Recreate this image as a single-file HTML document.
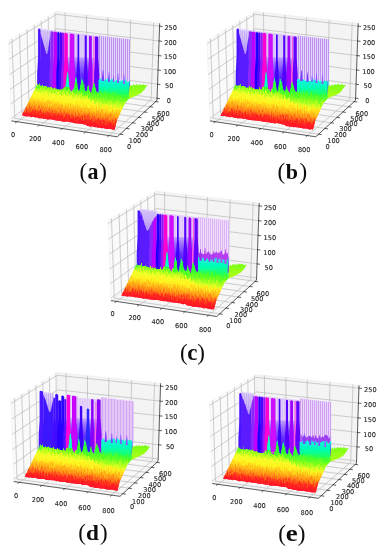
<!DOCTYPE html>
<html><head><meta charset="utf-8"><title>Figure</title>
<style>
html,body{margin:0;padding:0;background:#fff}
svg{display:block}
.tk text{font-family:"DejaVu Sans","Liberation Sans",sans-serif;font-size:6.6px;fill:#262626;stroke:#262626;stroke-width:.12px;text-anchor:middle}
.cap text{font-family:"Liberation Serif","DejaVu Serif",serif;fill:#111;text-anchor:middle}
.cap .pr{font-size:23px}
.cap .lt{font-size:22px;font-weight:bold}
</style></head><body>
<svg width="382" height="550" viewBox="0 0 382 550">
<defs>
<filter id="bl" x="-5%" y="-5%" width="110%" height="110%"><feGaussianBlur stdDeviation="0.55"/></filter>
<filter id="bl3" x="-10%" y="-10%" width="120%" height="120%"><feGaussianBlur stdDeviation="0.35"/></filter>
<filter id="bl2" x="-5%" y="-5%" width="110%" height="110%"><feGaussianBlur stdDeviation="0.3 0.5"/></filter>
<filter id="nz" x="-5%" y="-10%" width="110%" height="120%"><feTurbulence type="fractalNoise" baseFrequency="0.85 0.22" numOctaves="2" seed="3" result="t"/><feColorMatrix in="t" type="matrix" values="0 0 0 0 0.5  0 1.6 0 0 -0.3  0 0 0 0 0  0 0 0 0 1" result="t2"/><feDisplacementMap in="SourceGraphic" in2="t2" scale="6.5" xChannelSelector="R" yChannelSelector="G"/></filter>
<linearGradient id="lw" gradientUnits="userSpaceOnUse" x1="0" y1="52" x2="0" y2="84"><stop offset="0" stop-color="#6a28ff" stop-opacity="0"/><stop offset=".35" stop-color="#6424ff" stop-opacity=".5"/><stop offset=".7" stop-color="#5a20ff" stop-opacity=".9"/><stop offset="1" stop-color="#4a1eff" stop-opacity="1"/></linearGradient>
<linearGradient id="pg" x1="0" y1="0" x2="0" y2="1"><stop offset="0" stop-color="#78ff14"/><stop offset="1" stop-color="#b4ff14"/></linearGradient>
<linearGradient id="gx" gradientUnits="userSpaceOnUse" x1="110" y1="93" x2="108" y2="109"><stop offset="0" stop-color="#32ff32"/><stop offset=".35" stop-color="#6eff1e"/><stop offset=".7" stop-color="#beff1e" stop-opacity=".85"/><stop offset="1" stop-color="#f0ff28" stop-opacity="0"/></linearGradient>
<linearGradient id="vn" x1="0" y1="0" x2="0" y2="1"><stop offset="0" stop-color="#e6dafc"/><stop offset=".5" stop-color="#d2bff9"/><stop offset="1" stop-color="#ae8cf4"/></linearGradient>
<linearGradient id="fg" gradientUnits="userSpaceOnUse" x1="21.9" y1="115.6" x2="26.4" y2="83">
<stop offset="0" stop-color="#ff1428"/><stop offset=".13" stop-color="#ff281e"/><stop offset=".2" stop-color="#ff501e"/><stop offset=".3" stop-color="#ff8c14"/><stop offset=".42" stop-color="#ffb414"/><stop offset=".5" stop-color="#ffd21e"/><stop offset=".58" stop-color="#fff01e"/><stop offset=".74" stop-color="#f5ff28"/><stop offset=".82" stop-color="#c8ff1e"/><stop offset=".9" stop-color="#a0ff1e"/><stop offset=".96" stop-color="#64ff1e"/><stop offset="1" stop-color="#32ff32"/>
</linearGradient>
<linearGradient id="cy" x1="0" y1="0" x2="0" y2="1"><stop offset="0" stop-color="#14f0e6"/><stop offset=".45" stop-color="#00ffb4"/><stop offset=".8" stop-color="#1eff64"/><stop offset="1" stop-color="#46ff32"/></linearGradient>
</defs>
<rect width="382" height="550" fill="#fff"/>
<g transform="translate(0,0)" filter="url(#bl)"><polygon points="11.42,120.89 57.55,86.76 56.51,11.55 8.47,40.96" fill="#fafafa" stroke="#ececec" stroke-width=".5"/><polygon points="57.55,86.76 157,100.45 159.7,23.33 56.51,11.55" fill="#f4f4f4" stroke="#e8e8e8" stroke-width=".5"/><polygon points="11.42,120.89 117.28,136.81 157,100.45 57.55,86.76" fill="#f7f7f7" stroke="#e8e8e8" stroke-width=".5"/><g fill="none" stroke="#b4b4b4" stroke-width=".65"><polyline points="17.11,121.74 65.76,87.9 65.04,12.52" /><polyline points="40.28,125.23 86.47,90.74 86.52,14.98" /><polyline points="62.75,128.61 107.07,93.58 107.9,17.42" /><polyline points="85.82,132.08 129.03,96.6 130.68,20.02" /><polyline points="108.99,135.57 151.19,99.65 153.67,22.64" /><polyline points="120.18,134.16 14.77,118.4 11.97,38.82" /><polyline points="126.45,128.42 22.05,113.02 19.56,34.17" /><polyline points="132.58,122.81 29.16,107.77 26.97,29.63" /><polyline points="138.56,117.33 36.11,102.63 34.21,25.2" /><polyline points="144.41,111.98 42.9,97.6 41.29,20.87" /><polyline points="150.12,106.74 49.55,92.68 48.2,16.64" /><polyline points="155.71,101.62 56.06,87.87 54.96,12.5" /><polyline points="11.33,118.57 57.52,84.57 157.08,98.21" /><polyline points="10.8,104.06 57.33,70.9 157.57,84.2" /><polyline points="10.25,89.35 57.14,57.04 158.06,69.99" /><polyline points="9.7,74.43 56.95,42.99 158.57,55.59" /><polyline points="9.14,59.28 56.75,28.75 159.08,40.98" /><polyline points="8.57,43.91 56.55,14.32 159.6,26.17" /></g><polygon points="37.6,28.6 98.5,35.64 98.5,35.34 130.1,39 130,97 38,85" fill="#e4d4fb"/><clipPath id="bpa"><polygon points="37.6,28.6 98.5,35.64 98.5,35.34 130.1,39 130,97 38,85"/></clipPath><g clip-path="url(#bpa)"><g stroke="#cdb0f6" stroke-width="0.6"><line x1="40.6" y1="28.95" x2="40.6" y2="70"/><line x1="42.3" y1="29.14" x2="42.3" y2="70"/><line x1="44" y1="29.34" x2="44" y2="70"/><line x1="45.7" y1="29.54" x2="45.7" y2="70"/><line x1="47.4" y1="29.73" x2="47.4" y2="70"/><line x1="49.1" y1="29.93" x2="49.1" y2="70"/><line x1="50.8" y1="30.13" x2="50.8" y2="70"/><line x1="52.5" y1="30.32" x2="52.5" y2="70"/><line x1="54.2" y1="30.52" x2="54.2" y2="70"/><line x1="55.9" y1="30.72" x2="55.9" y2="70"/><line x1="57.6" y1="30.91" x2="57.6" y2="70"/><line x1="59.3" y1="31.11" x2="59.3" y2="70"/><line x1="61" y1="31.31" x2="61" y2="70"/><line x1="62.7" y1="31.5" x2="62.7" y2="70"/><line x1="64.4" y1="31.7" x2="64.4" y2="70"/><line x1="66.1" y1="31.9" x2="66.1" y2="70"/><line x1="67.8" y1="32.09" x2="67.8" y2="70"/><line x1="69.5" y1="32.29" x2="69.5" y2="70"/><line x1="71.2" y1="32.49" x2="71.2" y2="70"/><line x1="72.9" y1="32.68" x2="72.9" y2="70"/><line x1="74.6" y1="32.88" x2="74.6" y2="70"/><line x1="76.3" y1="33.08" x2="76.3" y2="70"/><line x1="78" y1="33.27" x2="78" y2="70"/><line x1="79.7" y1="33.47" x2="79.7" y2="70"/><line x1="81.4" y1="33.67" x2="81.4" y2="70"/><line x1="83.1" y1="33.86" x2="83.1" y2="70"/><line x1="84.8" y1="34.06" x2="84.8" y2="70"/><line x1="86.5" y1="34.26" x2="86.5" y2="70"/><line x1="88.2" y1="34.45" x2="88.2" y2="70"/><line x1="89.9" y1="34.65" x2="89.9" y2="70"/><line x1="91.6" y1="34.85" x2="91.6" y2="70"/><line x1="93.3" y1="35.04" x2="93.3" y2="70"/><line x1="95" y1="35.24" x2="95" y2="70"/><line x1="96.7" y1="35.44" x2="96.7" y2="70"/><line x1="98.4" y1="35.63" x2="98.4" y2="70"/></g></g></g>
<g transform="translate(0,0)" filter="url(#bl2)"><g stroke="#bd92f1" stroke-width="1"><line x1="99.5" y1="35.79" x2="99.5" y2="81.79"/><line x1="101.5" y1="36.04" x2="101.5" y2="80.85"/><line x1="103.5" y1="36.35" x2="103.5" y2="79.78"/><line x1="105.5" y1="36.46" x2="105.5" y2="80.8"/><line x1="107.5" y1="36.84" x2="107.5" y2="80.84"/><line x1="109.5" y1="37.06" x2="109.5" y2="82.34"/><line x1="111.5" y1="37.33" x2="111.5" y2="79.58"/><line x1="113.5" y1="37.49" x2="113.5" y2="80.64"/><line x1="115.5" y1="37.65" x2="115.5" y2="79.59"/><line x1="117.5" y1="37.89" x2="117.5" y2="80.99"/><line x1="119.5" y1="38.12" x2="119.5" y2="80.16"/><line x1="121.5" y1="38.4" x2="121.5" y2="79.56"/><line x1="123.5" y1="38.7" x2="123.5" y2="81.43"/><line x1="125.5" y1="38.81" x2="125.5" y2="82.08"/><line x1="127.5" y1="39.02" x2="127.5" y2="81.66"/><line x1="129.5" y1="39.37" x2="129.5" y2="80.77"/></g></g>
<g transform="translate(0,0)" filter="url(#bl)"><polygon points="37.6,56 98.5,58 98.5,94.89 38,87" fill="url(#lw)"/><polygon points="37.2,91.01 37.2,74 38.1,60 38.1,29.36 38.9,28.56 39.9,28.86 40.7,29.66 40.7,60 41.6,74 41.6,91.35" fill="#4a14ff"/><polygon points="39.6,91.33 39.6,74 40.5,60 40.5,30.84 41.3,30.04 49.6,31.18 50.4,31.98 50.4,60 51.3,74 51.3,92.62" fill="#5a1eff"/><polygon points="49.5,92.62 49.5,74 50.4,60 50.4,31.98 51.2,31.18 52.7,31.54 53.5,32.34 53.5,60 54.4,74 54.4,93.02" fill="#8c28ff"/><polygon points="52.6,93.02 52.6,74 53.5,60 53.5,32.34 54.3,31.54 56.4,31.97 57.2,32.77 57.2,60 58.1,74 58.1,93.5" fill="#be00ff"/><polygon points="56.3,93.5 56.3,74 57.2,60 57.2,32.77 58,31.97 58.8,32.24 59.6,33.04 59.6,60 60.5,74 60.5,93.82" fill="#1a00ff"/><polygon points="58.7,93.82 58.7,74 59.6,60 59.6,33.04 60.4,32.24 61.2,32.52 62,33.32 62,60 62.9,74 62.9,94.13" fill="#5000ff"/><polygon points="61.1,94.13 61.1,74 62,60 62,33.29 62.77,32.52 63.53,32.79 64.3,33.56 64.3,60 65.2,74 65.2,94.43" fill="#9614ff"/><polygon points="63.4,94.43 63.4,74 64.3,60 64.3,33.59 65.1,32.79 67,33.19 67.8,33.99 67.8,60 68.7,74 68.7,94.89" fill="#ff00d2"/><polygon points="68.9,95.15 68.9,74 69.8,60 69.8,34.22 70.6,33.42 73.5,33.95 74.3,34.75 74.3,60 75.2,74 75.2,95.73" fill="#cc10ff"/><polygon points="76.6,96.15 76.6,74 77.5,60 77.5,34.88 78.07,34.32 78.63,34.51 79.2,35.08 79.2,60 80.1,74 80.1,96.37" fill="#3c00ff"/><polygon points="83.8,97.09 83.8,74 84.7,60 84.7,35.85 85.4,35.15 86.1,35.39 86.8,36.09 86.8,60 87.7,74 87.7,97.37" fill="#5200ff"/><polygon points="88.1,97.65 88.1,74 89,60 89,36.45 89.8,35.65 91,35.97 91.8,36.77 91.8,60 92.7,74 92.7,98.02" fill="#a000ff"/><polygon points="92.5,98.23 92.5,74 93.4,60 93.4,36.55 93.8,36.15 94.2,36.29 94.6,36.69 94.6,60 95.5,74 95.5,98.38" fill="#ff5ae0"/><polygon points="94.1,98.43 94.1,74 95,60 95,37.14 95.8,36.34 97.5,36.72 98.3,37.52 98.3,60 99.2,74 99.2,98.87" fill="#6400ff"/><polygon points="40.6,28.4 50.4,29.6 50.4,34 47.3,54 46.3,54 40.6,33" fill="url(#vn)"/><g stroke="#b99af4" stroke-width=".7"><line x1="41.8" y1="30.29" x2="41.8" y2="36.59"/><line x1="43.8" y1="30.52" x2="43.8" y2="43.04"/><line x1="45.8" y1="30.75" x2="45.8" y2="49.35"/><line x1="47.8" y1="30.98" x2="47.8" y2="50.69"/><line x1="49.8" y1="31.21" x2="49.8" y2="37.64"/></g><polygon points="98.5,80.06 99.63,79.62 100.76,78.51 101.89,79.49 103.01,80.51 104.14,80.46 105.27,79.45 106.4,79.78 107.53,78.08 108.66,78.82 109.79,80.67 110.91,79.51 112.04,78.81 113.17,80.08 114.3,80.65 115.43,80.63 116.56,79.74 117.69,80.02 118.81,80.31 119.94,81.25 121.07,80.5 122.2,80.16 123.33,80.54 124.46,79.14 125.59,79.25 126.71,81.44 127.84,82.4 128.97,81.23 130.1,80.66 130.1,98 98.5,94.5" fill="url(#cy)"/><polygon points="101.75,81 102.62,71 103,70 103.38,71 104.25,81" fill="#7a40ff"/><polygon points="108,82 108.7,73 109,72 109.3,73 110,82" fill="#7a40ff"/><polygon points="112.7,82 113.26,76 113.5,75 113.74,76 114.3,82" fill="#8a50ff"/><polygon points="117,83 117.7,74 118,73 118.3,74 119,83" fill="#8a50ff"/><polygon points="123,84 123.7,75 124,74 124.3,75 125,84" fill="#9a50ff"/><polygon points="128.7,93 129.19,81 129.4,80 129.61,81 130.1,93" fill="#5a50ff"/><polygon points="129.4,86.4 131.29,85.02 132.22,86.29 133.34,84.21 135.27,85.56 136.58,83.82 138.03,85.67 139.3,84.03 141.19,85.31 143.14,84.25 144.51,85.35 147.26,84.64 144.72,89.36 141.02,93.3 134.99,96.19 128.41,99.03" fill="url(#pg)"/><clipPath id="fca"><polygon points="36.5,85.5 37,69 131,81 129,98.2 124.6,103.4 119.5,114.7 117,120 114.5,130.04 112.98,129.69 111.46,129.17 109.95,128.87 108.43,128.98 106.91,128.89 105.39,128.74 103.87,128.12 102.36,128.29 100.84,127.94 99.32,127.59 97.8,127.73 96.28,127 94.77,127.13 93.25,126.47 91.73,126.32 90.21,126.63 88.69,125.93 87.18,126.1 85.66,124.48 84.14,124.44 82.62,123.9 81.1,123.67 79.59,123.43 78.07,123.62 76.55,123.23 75.03,123.26 73.51,123.01 72,122.27 70.48,122.35 68.96,121.83 67.44,121.57 65.92,121.39 64.4,121.73 62.89,121.47 61.37,121.29 59.85,120.73 58.33,120.72 56.81,120.62 55.3,120.13 53.78,120.06 52.26,119.6 50.74,119.29 49.22,119.21 47.71,119.44 46.19,119 44.67,119.05 43.15,118.51 41.63,118.17 40.12,118.32 38.6,118.14 37.08,117.36 35.56,117.61 34.04,116.99 32.53,116.8 31.01,117.13 29.49,116.33 27.97,116.26 26.45,116.57 24.94,115.96 23.42,115.54 21.9,115.37"/></clipPath><polygon points="38.05,85.11 39.98,85.53 43.89,86.28 48.03,87.56 52.12,88.3 56.13,88.76 60.14,89.77 62.83,89.12 65.31,88.76 66.5,79.61 67.55,73.84 68.23,79.66 69.31,87.67 70.91,91.21 72.48,91.32 74.29,87.52 75.25,81.92 75.88,77.11 76.96,82.01 77.68,88.11 79.13,92.02 80.11,86.65 81.29,81.66 82.08,79.18 82.92,81.72 83.99,86.3 85.51,92.22 87.06,89.89 88.03,84.82 89.05,89.56 90.92,93.97 92.75,87.81 93.54,84.31 94.18,82.74 94.67,84.25 95.4,88.38 96.82,92.82 98.68,93.57 99.5,93.63 101.03,94.66 102.55,94.99 104.08,94.86 105.6,94.83 107.12,94.87 108.65,95.03 110.17,95.06 111.7,95.82 113.22,95.73 114.75,95.64 116.28,95.74 117.8,96.61 119.33,96.36 120.85,96.81 122.38,96.8 123.9,97.65 125.42,97.88 126.95,97.02 128.47,97.44 130,97.79 129,98.2 124.6,103.4 119.5,114.7 117,120 114.5,130.04 112.98,129.69 111.46,129.17 109.95,128.87 108.43,128.98 106.91,128.89 105.39,128.74 103.87,128.12 102.36,128.29 100.84,127.94 99.32,127.59 97.8,127.73 96.28,127 94.77,127.13 93.25,126.47 91.73,126.32 90.21,126.63 88.69,125.93 87.18,126.1 85.66,124.48 84.14,124.44 82.62,123.9 81.1,123.67 79.59,123.43 78.07,123.62 76.55,123.23 75.03,123.26 73.51,123.01 72,122.27 70.48,122.35 68.96,121.83 67.44,121.57 65.92,121.39 64.4,121.73 62.89,121.47 61.37,121.29 59.85,120.73 58.33,120.72 56.81,120.62 55.3,120.13 53.78,120.06 52.26,119.6 50.74,119.29 49.22,119.21 47.71,119.44 46.19,119 44.67,119.05 43.15,118.51 41.63,118.17 40.12,118.32 38.6,118.14 37.08,117.36 35.56,117.61 34.04,116.99 32.53,116.8 31.01,117.13 29.49,116.33 27.97,116.26 26.45,116.57 24.94,115.96 23.42,115.54 21.9,115.37" fill="url(#fg)"/><g clip-path="url(#fca)"><polygon points="38.05,85.11 39.98,85.53 43.89,86.28 48.03,87.56 52.12,88.3 56.13,88.76 60.14,89.77 62.83,89.12 65.31,88.76 66.5,79.61 67.55,73.84 68.23,79.66 69.31,87.67 70.91,91.21 72.48,91.32 74.29,87.52 75.25,81.92 75.88,77.11 76.96,82.01 77.68,88.11 79.13,92.02 80.11,86.65 81.29,81.66 82.08,79.18 82.92,81.72 83.99,86.3 85.51,92.22 87.06,89.89 88.03,84.82 89.05,89.56 90.92,93.97 92.75,87.81 93.54,84.31 94.18,82.74 94.67,84.25 95.4,88.38 96.82,92.82 98.68,93.57 99.5,93.63 101.03,94.66 102.55,94.99 104.08,94.86 105.6,94.83 107.12,94.87 108.65,95.03 110.17,95.06 111.7,95.82 113.22,95.73 114.75,95.64 116.28,95.74 117.8,96.61 119.33,96.36 120.85,96.81 122.38,96.8 123.9,97.65 125.42,97.88 126.95,97.02 128.47,97.44 130,97.79 133,96 120.5,132.4 15.9,119.6 35,84" fill="url(#fg)" filter="url(#nz)"/></g><g clip-path="url(#fca)"><polygon points="78,91 131,96 131,112 104,108.5" fill="url(#gx)" filter="url(#nz)"/></g><polygon points="65.9,87 67.09,73 67.6,72 68.11,73 69.3,87" fill="#00ffd2"/><polygon points="75.1,82 75.73,78 76,77 76.27,78 76.9,82" fill="#14ffa0"/><polygon points="81.2,83 81.76,80 82,79 82.24,80 82.8,83" fill="#28ff8c"/><g fill="none" stroke="#1c1c1c" stroke-width=".7"><polyline points="11.42,120.89 117.28,136.81 157,100.45 159.7,23.33" /><polyline points="17.15,121.48 15.08,123.03" /><polyline points="39.65,124.87 37.64,126.44" /><polyline points="62.47,128.3 60.52,129.89" /><polyline points="85.62,131.78 83.73,133.4" /><polyline points="109.1,135.31 107.28,136.95" /><polyline points="119.71,134.09 123.26,134.62" /><polyline points="125.98,128.35 129.5,128.87" /><polyline points="132.11,122.74 135.6,123.25" /><polyline points="138.1,117.27 141.55,117.76" /><polyline points="143.95,111.91 147.37,112.4" /><polyline points="149.67,106.68 153.06,107.15" /><polyline points="155.27,101.56 158.62,102.03" /><polyline points="156.63,98.15 159.98,98.6" /><polyline points="157.12,84.14 160.49,84.58" /><polyline points="157.61,69.93 161.01,70.37" /><polyline points="158.11,55.53 161.53,55.95" /><polyline points="158.62,40.93 162.07,41.34" /><polyline points="159.13,26.12 162.6,26.51" /></g><g class="tk"><text x="13.2" y="136.61">0</text><text x="35.2" y="140.71">200</text><text x="58.3" y="144.61">400</text><text x="81.8" y="148.61">600</text><text x="105.7" y="152.21">800</text><text x="163.3" y="115.51">600</text><text x="158" y="120.81">500</text><text x="152.9" y="125.51">400</text><text x="147" y="131.21">300</text><text x="142" y="137.41">200</text><text x="135" y="143.11">100</text><text x="129.1" y="148.71">0</text><text x="168.9" y="102.81">0</text><text x="169.3" y="88.21">50</text><text x="170" y="74.21">100</text><text x="170.3" y="59.31">150</text><text x="170.5" y="44.81">200</text><text x="170.7" y="29.71">250</text></g></g>
<g transform="translate(198.5,0)" filter="url(#bl)"><polygon points="11.42,120.89 57.55,86.76 56.51,11.55 8.47,40.96" fill="#fafafa" stroke="#ececec" stroke-width=".5"/><polygon points="57.55,86.76 157,100.45 159.7,23.33 56.51,11.55" fill="#f4f4f4" stroke="#e8e8e8" stroke-width=".5"/><polygon points="11.42,120.89 117.28,136.81 157,100.45 57.55,86.76" fill="#f7f7f7" stroke="#e8e8e8" stroke-width=".5"/><g fill="none" stroke="#b4b4b4" stroke-width=".65"><polyline points="17.11,121.74 65.76,87.9 65.04,12.52" /><polyline points="40.28,125.23 86.47,90.74 86.52,14.98" /><polyline points="62.75,128.61 107.07,93.58 107.9,17.42" /><polyline points="85.82,132.08 129.03,96.6 130.68,20.02" /><polyline points="108.99,135.57 151.19,99.65 153.67,22.64" /><polyline points="120.18,134.16 14.77,118.4 11.97,38.82" /><polyline points="126.45,128.42 22.05,113.02 19.56,34.17" /><polyline points="132.58,122.81 29.16,107.77 26.97,29.63" /><polyline points="138.56,117.33 36.11,102.63 34.21,25.2" /><polyline points="144.41,111.98 42.9,97.6 41.29,20.87" /><polyline points="150.12,106.74 49.55,92.68 48.2,16.64" /><polyline points="155.71,101.62 56.06,87.87 54.96,12.5" /><polyline points="11.33,118.57 57.52,84.57 157.08,98.21" /><polyline points="10.8,104.06 57.33,70.9 157.57,84.2" /><polyline points="10.25,89.35 57.14,57.04 158.06,69.99" /><polyline points="9.7,74.43 56.95,42.99 158.57,55.59" /><polyline points="9.14,59.28 56.75,28.75 159.08,40.98" /><polyline points="8.57,43.91 56.55,14.32 159.6,26.17" /></g><polygon points="37.6,28.6 98.5,35.64 98.5,35.34 130.1,39 130,97 38,85" fill="#e4d4fb"/><clipPath id="bpb"><polygon points="37.6,28.6 98.5,35.64 98.5,35.34 130.1,39 130,97 38,85"/></clipPath><g clip-path="url(#bpb)"><g stroke="#cdb0f6" stroke-width="0.6"><line x1="40.6" y1="28.95" x2="40.6" y2="70"/><line x1="42.3" y1="29.14" x2="42.3" y2="70"/><line x1="44" y1="29.34" x2="44" y2="70"/><line x1="45.7" y1="29.54" x2="45.7" y2="70"/><line x1="47.4" y1="29.73" x2="47.4" y2="70"/><line x1="49.1" y1="29.93" x2="49.1" y2="70"/><line x1="50.8" y1="30.13" x2="50.8" y2="70"/><line x1="52.5" y1="30.32" x2="52.5" y2="70"/><line x1="54.2" y1="30.52" x2="54.2" y2="70"/><line x1="55.9" y1="30.72" x2="55.9" y2="70"/><line x1="57.6" y1="30.91" x2="57.6" y2="70"/><line x1="59.3" y1="31.11" x2="59.3" y2="70"/><line x1="61" y1="31.31" x2="61" y2="70"/><line x1="62.7" y1="31.5" x2="62.7" y2="70"/><line x1="64.4" y1="31.7" x2="64.4" y2="70"/><line x1="66.1" y1="31.9" x2="66.1" y2="70"/><line x1="67.8" y1="32.09" x2="67.8" y2="70"/><line x1="69.5" y1="32.29" x2="69.5" y2="70"/><line x1="71.2" y1="32.49" x2="71.2" y2="70"/><line x1="72.9" y1="32.68" x2="72.9" y2="70"/><line x1="74.6" y1="32.88" x2="74.6" y2="70"/><line x1="76.3" y1="33.08" x2="76.3" y2="70"/><line x1="78" y1="33.27" x2="78" y2="70"/><line x1="79.7" y1="33.47" x2="79.7" y2="70"/><line x1="81.4" y1="33.67" x2="81.4" y2="70"/><line x1="83.1" y1="33.86" x2="83.1" y2="70"/><line x1="84.8" y1="34.06" x2="84.8" y2="70"/><line x1="86.5" y1="34.26" x2="86.5" y2="70"/><line x1="88.2" y1="34.45" x2="88.2" y2="70"/><line x1="89.9" y1="34.65" x2="89.9" y2="70"/><line x1="91.6" y1="34.85" x2="91.6" y2="70"/><line x1="93.3" y1="35.04" x2="93.3" y2="70"/><line x1="95" y1="35.24" x2="95" y2="70"/><line x1="96.7" y1="35.44" x2="96.7" y2="70"/><line x1="98.4" y1="35.63" x2="98.4" y2="70"/></g></g></g>
<g transform="translate(198.5,0)" filter="url(#bl2)"><g stroke="#bd92f1" stroke-width="1"><line x1="100" y1="35.95" x2="100" y2="79.67"/><line x1="102" y1="36.01" x2="102" y2="81.71"/><line x1="104" y1="36.36" x2="104" y2="81.32"/><line x1="106" y1="36.58" x2="106" y2="79.98"/><line x1="108" y1="36.77" x2="108" y2="81.67"/><line x1="110" y1="37.12" x2="110" y2="81.13"/><line x1="112" y1="37.24" x2="112" y2="79.61"/><line x1="114" y1="37.39" x2="114" y2="80.46"/><line x1="116" y1="37.69" x2="116" y2="81.08"/><line x1="118" y1="37.95" x2="118" y2="79.57"/><line x1="120" y1="38.14" x2="120" y2="81.03"/><line x1="122" y1="38.5" x2="122" y2="80.05"/><line x1="124" y1="38.72" x2="124" y2="81.7"/><line x1="126" y1="38.95" x2="126" y2="81.87"/><line x1="128" y1="39.07" x2="128" y2="82.39"/><line x1="130" y1="39.26" x2="130" y2="81.65"/></g></g>
<g transform="translate(198.5,0)" filter="url(#bl)"><polygon points="37.6,56 98.5,58 98.5,94.89 38,87" fill="url(#lw)"/><polygon points="37.2,91.01 37.2,74 38.1,60 38.1,29.36 38.9,28.56 39.9,28.86 40.7,29.66 40.7,60 41.6,74 41.6,91.35" fill="#4a14ff"/><polygon points="39.6,91.33 39.6,74 40.5,60 40.5,30.84 41.3,30.04 49.6,31.18 50.4,31.98 50.4,60 51.3,74 51.3,92.62" fill="#5a1eff"/><polygon points="49.5,92.62 49.5,74 50.4,60 50.4,31.98 51.2,31.18 52.7,31.54 53.5,32.34 53.5,60 54.4,74 54.4,93.02" fill="#8c28ff"/><polygon points="52.6,93.02 52.6,74 53.5,60 53.5,32.34 54.3,31.54 56.4,31.97 57.2,32.77 57.2,60 58.1,74 58.1,93.5" fill="#be00ff"/><polygon points="56.3,93.5 56.3,74 57.2,60 57.2,32.77 58,31.97 58.8,32.24 59.6,33.04 59.6,60 60.5,74 60.5,93.82" fill="#1a00ff"/><polygon points="58.7,93.82 58.7,74 59.6,60 59.6,33.04 60.4,32.24 61.2,32.52 62,33.32 62,60 62.9,74 62.9,94.13" fill="#5000ff"/><polygon points="61.1,94.13 61.1,74 62,60 62,33.29 62.77,32.52 63.53,32.79 64.3,33.56 64.3,60 65.2,74 65.2,94.43" fill="#9614ff"/><polygon points="63.4,94.43 63.4,74 64.3,60 64.3,33.59 65.1,32.79 67,33.19 67.8,33.99 67.8,60 68.7,74 68.7,94.89" fill="#ff00d2"/><polygon points="68.9,95.15 68.9,74 69.8,60 69.8,34.22 70.6,33.42 73.5,33.95 74.3,34.75 74.3,60 75.2,74 75.2,95.73" fill="#cc10ff"/><polygon points="76.6,96.15 76.6,74 77.5,60 77.5,34.88 78.07,34.32 78.63,34.51 79.2,35.08 79.2,60 80.1,74 80.1,96.37" fill="#3c00ff"/><polygon points="83.8,97.09 83.8,74 84.7,60 84.7,35.85 85.4,35.15 86.1,35.39 86.8,36.09 86.8,60 87.7,74 87.7,97.37" fill="#5200ff"/><polygon points="88.1,97.65 88.1,74 89,60 89,36.45 89.8,35.65 91,35.97 91.8,36.77 91.8,60 92.7,74 92.7,98.02" fill="#a000ff"/><polygon points="92.5,98.23 92.5,74 93.4,60 93.4,36.55 93.8,36.15 94.2,36.29 94.6,36.69 94.6,60 95.5,74 95.5,98.38" fill="#ff5ae0"/><polygon points="94.1,98.43 94.1,74 95,60 95,37.14 95.8,36.34 97.5,36.72 98.3,37.52 98.3,60 99.2,74 99.2,98.87" fill="#6400ff"/><polygon points="40.6,28.4 50.4,29.6 50.4,34 47.3,54 46.3,54 40.6,33" fill="url(#vn)"/><g stroke="#b99af4" stroke-width=".7"><line x1="41.8" y1="30.29" x2="41.8" y2="36.59"/><line x1="43.8" y1="30.52" x2="43.8" y2="43.04"/><line x1="45.8" y1="30.75" x2="45.8" y2="49.35"/><line x1="47.8" y1="30.98" x2="47.8" y2="50.69"/><line x1="49.8" y1="31.21" x2="49.8" y2="37.64"/></g><polygon points="98.5,78.88 99.63,79.17 100.76,79.11 101.89,80.57 103.01,79.29 104.14,80.42 105.27,78.96 106.4,80.73 107.53,80.85 108.66,79.52 109.79,79.93 110.91,81.13 112.04,80.57 113.17,79.89 114.3,79.11 115.43,79.51 116.56,80.78 117.69,79.15 118.81,81.59 119.94,79.62 121.07,81.74 122.2,79.89 123.33,82.03 124.46,81.3 125.59,80.73 126.71,80.84 127.84,81.34 128.97,81.21 130.1,80.4 130.1,98 98.5,94.5" fill="url(#cy)"/><polygon points="101.75,81 102.62,71 103,70 103.38,71 104.25,81" fill="#7a40ff"/><polygon points="108,82 108.7,73 109,72 109.3,73 110,82" fill="#7a40ff"/><polygon points="112.7,82 113.26,76 113.5,75 113.74,76 114.3,82" fill="#8a50ff"/><polygon points="117,83 117.7,74 118,73 118.3,74 119,83" fill="#8a50ff"/><polygon points="123,84 123.7,75 124,74 124.3,75 125,84" fill="#9a50ff"/><polygon points="128.7,93 129.19,81 129.4,80 129.61,81 130.1,93" fill="#5a50ff"/><polygon points="129.42,86.41 131.26,84.9 131.95,86.26 133.64,84.53 134.81,85.7 136.34,84.12 137.86,85.08 139.83,83.49 141.01,85.28 142.85,83.77 144.73,85.24 147.43,84.63 144.42,89.04 141.3,92.97 135.27,95.92 128.64,98.62" fill="url(#pg)"/><clipPath id="fcb"><polygon points="36.5,85.5 37,69 131,81 129,98.2 124.6,103.4 119.5,114.7 117,120 114.5,129.42 112.98,129.35 111.46,129.52 109.95,129.19 108.43,128.52 106.91,128.62 105.39,128.38 103.87,128.22 102.36,127.82 100.84,127.87 99.32,127.3 97.8,127.24 96.28,127.09 94.77,127.28 93.25,126.47 91.73,126.73 90.21,126.13 88.69,126.18 87.18,125.85 85.66,124.39 84.14,124.38 82.62,123.92 81.1,123.52 79.59,123.31 78.07,123.07 76.55,123.4 75.03,123.04 73.51,123.06 72,122.66 70.48,121.98 68.96,122.22 67.44,122.09 65.92,121.84 64.4,121.47 62.89,121.17 61.37,121.03 59.85,121.06 58.33,120.47 56.81,120.44 55.3,120.2 53.78,120.32 52.26,120.01 50.74,119.89 49.22,119.61 47.71,119.02 46.19,118.77 44.67,118.74 43.15,118.37 41.63,118.28 40.12,118.24 38.6,118.2 37.08,117.76 35.56,117.71 34.04,117 32.53,116.97 31.01,117.21 29.49,116.4 27.97,116.38 26.45,115.93 24.94,115.73 23.42,116.09 21.9,115.94"/></clipPath><polygon points="37.9,85.31 39.86,85.68 44.08,86.49 47.82,87.69 51.86,87.54 55.94,89.12 60.1,89.21 62.93,89.13 65.48,88.77 66.7,80.4 67.6,74.36 68.48,79.97 69.19,88.16 70.93,90.6 72.48,91.87 74.15,88.08 75.26,82.01 75.86,77.96 76.7,82.11 77.77,87.52 79.02,92.14 80.12,86.53 81.06,81.6 82.05,79.01 83.09,82.43 84,85.73 85.48,92.25 87.04,90.12 88.12,85.21 88.9,89.92 91.01,93 92.41,87.91 93.24,84.72 93.9,82.1 94.57,84.23 95.49,88.02 96.99,92.31 98.56,93.21 99.5,94.51 101.03,94.78 102.55,94.69 104.08,94.54 105.6,94.83 107.12,95.11 108.65,94.68 110.17,95.32 111.7,95.64 113.22,95.43 114.75,95.52 116.28,96.57 117.8,96.25 119.33,96.63 120.85,97.31 122.38,97.14 123.9,96.95 125.42,97.98 126.95,97.45 128.47,97.22 130,98.22 129,98.2 124.6,103.4 119.5,114.7 117,120 114.5,129.42 112.98,129.35 111.46,129.52 109.95,129.19 108.43,128.52 106.91,128.62 105.39,128.38 103.87,128.22 102.36,127.82 100.84,127.87 99.32,127.3 97.8,127.24 96.28,127.09 94.77,127.28 93.25,126.47 91.73,126.73 90.21,126.13 88.69,126.18 87.18,125.85 85.66,124.39 84.14,124.38 82.62,123.92 81.1,123.52 79.59,123.31 78.07,123.07 76.55,123.4 75.03,123.04 73.51,123.06 72,122.66 70.48,121.98 68.96,122.22 67.44,122.09 65.92,121.84 64.4,121.47 62.89,121.17 61.37,121.03 59.85,121.06 58.33,120.47 56.81,120.44 55.3,120.2 53.78,120.32 52.26,120.01 50.74,119.89 49.22,119.61 47.71,119.02 46.19,118.77 44.67,118.74 43.15,118.37 41.63,118.28 40.12,118.24 38.6,118.2 37.08,117.76 35.56,117.71 34.04,117 32.53,116.97 31.01,117.21 29.49,116.4 27.97,116.38 26.45,115.93 24.94,115.73 23.42,116.09 21.9,115.94" fill="url(#fg)"/><g clip-path="url(#fcb)"><polygon points="37.9,85.31 39.86,85.68 44.08,86.49 47.82,87.69 51.86,87.54 55.94,89.12 60.1,89.21 62.93,89.13 65.48,88.77 66.7,80.4 67.6,74.36 68.48,79.97 69.19,88.16 70.93,90.6 72.48,91.87 74.15,88.08 75.26,82.01 75.86,77.96 76.7,82.11 77.77,87.52 79.02,92.14 80.12,86.53 81.06,81.6 82.05,79.01 83.09,82.43 84,85.73 85.48,92.25 87.04,90.12 88.12,85.21 88.9,89.92 91.01,93 92.41,87.91 93.24,84.72 93.9,82.1 94.57,84.23 95.49,88.02 96.99,92.31 98.56,93.21 99.5,94.51 101.03,94.78 102.55,94.69 104.08,94.54 105.6,94.83 107.12,95.11 108.65,94.68 110.17,95.32 111.7,95.64 113.22,95.43 114.75,95.52 116.28,96.57 117.8,96.25 119.33,96.63 120.85,97.31 122.38,97.14 123.9,96.95 125.42,97.98 126.95,97.45 128.47,97.22 130,98.22 133,96 120.5,132.4 15.9,119.6 35,84" fill="url(#fg)" filter="url(#nz)"/></g><g clip-path="url(#fcb)"><polygon points="78,91 131,96 131,112 104,108.5" fill="url(#gx)" filter="url(#nz)"/></g><polygon points="65.9,87 67.09,73 67.6,72 68.11,73 69.3,87" fill="#00ffd2"/><polygon points="75.1,82 75.73,78 76,77 76.27,78 76.9,82" fill="#14ffa0"/><polygon points="81.2,83 81.76,80 82,79 82.24,80 82.8,83" fill="#28ff8c"/><g fill="none" stroke="#1c1c1c" stroke-width=".7"><polyline points="11.42,120.89 117.28,136.81 157,100.45 159.7,23.33" /><polyline points="17.15,121.48 15.08,123.03" /><polyline points="39.65,124.87 37.64,126.44" /><polyline points="62.47,128.3 60.52,129.89" /><polyline points="85.62,131.78 83.73,133.4" /><polyline points="109.1,135.31 107.28,136.95" /><polyline points="119.71,134.09 123.26,134.62" /><polyline points="125.98,128.35 129.5,128.87" /><polyline points="132.11,122.74 135.6,123.25" /><polyline points="138.1,117.27 141.55,117.76" /><polyline points="143.95,111.91 147.37,112.4" /><polyline points="149.67,106.68 153.06,107.15" /><polyline points="155.27,101.56 158.62,102.03" /><polyline points="156.63,98.15 159.98,98.6" /><polyline points="157.12,84.14 160.49,84.58" /><polyline points="157.61,69.93 161.01,70.37" /><polyline points="158.11,55.53 161.53,55.95" /><polyline points="158.62,40.93 162.07,41.34" /><polyline points="159.13,26.12 162.6,26.51" /></g><g class="tk"><text x="13.2" y="136.61">0</text><text x="35.2" y="140.71">200</text><text x="58.3" y="144.61">400</text><text x="81.8" y="148.61">600</text><text x="105.7" y="152.21">800</text><text x="163.3" y="115.51">600</text><text x="158" y="120.81">500</text><text x="152.9" y="125.51">400</text><text x="147" y="131.21">300</text><text x="142" y="137.41">200</text><text x="135" y="143.11">100</text><text x="129.1" y="148.71">0</text><text x="168.9" y="102.81">0</text><text x="169.3" y="88.21">50</text><text x="170" y="74.21">100</text><text x="170.3" y="59.31">150</text><text x="170.5" y="44.81">200</text><text x="170.7" y="29.71">250</text></g></g>
<g transform="translate(99.5,179.7)" filter="url(#bl)"><polygon points="11.42,120.89 57.55,86.76 56.51,11.55 8.47,40.96" fill="#fafafa" stroke="#ececec" stroke-width=".5"/><polygon points="57.55,86.76 157,100.45 159.7,23.33 56.51,11.55" fill="#f4f4f4" stroke="#e8e8e8" stroke-width=".5"/><polygon points="11.42,120.89 117.28,136.81 157,100.45 57.55,86.76" fill="#f7f7f7" stroke="#e8e8e8" stroke-width=".5"/><g fill="none" stroke="#b4b4b4" stroke-width=".65"><polyline points="17.11,121.74 65.76,87.9 65.04,12.52" /><polyline points="40.28,125.23 86.47,90.74 86.52,14.98" /><polyline points="62.75,128.61 107.07,93.58 107.9,17.42" /><polyline points="85.82,132.08 129.03,96.6 130.68,20.02" /><polyline points="108.99,135.57 151.19,99.65 153.67,22.64" /><polyline points="120.18,134.16 14.77,118.4 11.97,38.82" /><polyline points="126.45,128.42 22.05,113.02 19.56,34.17" /><polyline points="132.58,122.81 29.16,107.77 26.97,29.63" /><polyline points="138.56,117.33 36.11,102.63 34.21,25.2" /><polyline points="144.41,111.98 42.9,97.6 41.29,20.87" /><polyline points="150.12,106.74 49.55,92.68 48.2,16.64" /><polyline points="155.71,101.62 56.06,87.87 54.96,12.5" /><polyline points="11.33,118.57 57.52,84.57 157.08,98.21" /><polyline points="10.8,104.06 57.33,70.9 157.57,84.2" /><polyline points="10.25,89.35 57.14,57.04 158.06,69.99" /><polyline points="9.7,74.43 56.95,42.99 158.57,55.59" /><polyline points="9.14,59.28 56.75,28.75 159.08,40.98" /><polyline points="8.57,43.91 56.55,14.32 159.6,26.17" /></g><polygon points="37.6,30.6 98.5,37.64 98.5,36.84 130.1,40.5 130,97 38,85" fill="#efdcfb"/><clipPath id="bpc"><polygon points="37.6,30.6 98.5,37.64 98.5,36.84 130.1,40.5 130,97 38,85"/></clipPath><g clip-path="url(#bpc)"><g stroke="#cdb0f6" stroke-width="0.6"><line x1="40.6" y1="28.95" x2="40.6" y2="70"/><line x1="42.3" y1="29.14" x2="42.3" y2="70"/><line x1="44" y1="29.34" x2="44" y2="70"/><line x1="45.7" y1="29.54" x2="45.7" y2="70"/><line x1="47.4" y1="29.73" x2="47.4" y2="70"/><line x1="49.1" y1="29.93" x2="49.1" y2="70"/><line x1="50.8" y1="30.13" x2="50.8" y2="70"/><line x1="52.5" y1="30.32" x2="52.5" y2="70"/><line x1="54.2" y1="30.52" x2="54.2" y2="70"/><line x1="55.9" y1="30.72" x2="55.9" y2="70"/><line x1="57.6" y1="30.91" x2="57.6" y2="70"/><line x1="59.3" y1="31.11" x2="59.3" y2="70"/><line x1="61" y1="31.31" x2="61" y2="70"/><line x1="62.7" y1="31.5" x2="62.7" y2="70"/><line x1="64.4" y1="31.7" x2="64.4" y2="70"/><line x1="66.1" y1="31.9" x2="66.1" y2="70"/><line x1="67.8" y1="32.09" x2="67.8" y2="70"/><line x1="69.5" y1="32.29" x2="69.5" y2="70"/><line x1="71.2" y1="32.49" x2="71.2" y2="70"/><line x1="72.9" y1="32.68" x2="72.9" y2="70"/><line x1="74.6" y1="32.88" x2="74.6" y2="70"/><line x1="76.3" y1="33.08" x2="76.3" y2="70"/><line x1="78" y1="33.27" x2="78" y2="70"/><line x1="79.7" y1="33.47" x2="79.7" y2="70"/><line x1="81.4" y1="33.67" x2="81.4" y2="70"/><line x1="83.1" y1="33.86" x2="83.1" y2="70"/><line x1="84.8" y1="34.06" x2="84.8" y2="70"/><line x1="86.5" y1="34.26" x2="86.5" y2="70"/><line x1="88.2" y1="34.45" x2="88.2" y2="70"/><line x1="89.9" y1="34.65" x2="89.9" y2="70"/><line x1="91.6" y1="34.85" x2="91.6" y2="70"/><line x1="93.3" y1="35.04" x2="93.3" y2="70"/><line x1="95" y1="35.24" x2="95" y2="70"/><line x1="96.7" y1="35.44" x2="96.7" y2="70"/><line x1="98.4" y1="35.63" x2="98.4" y2="70"/></g></g></g>
<g transform="translate(99.5,179.7)" filter="url(#bl2)"><g stroke="#dcb6f5" stroke-width="1"><line x1="99" y1="37.31" x2="99" y2="80.61"/><line x1="101" y1="37.61" x2="101" y2="79.7"/><line x1="103" y1="37.73" x2="103" y2="80.28"/><line x1="105" y1="38" x2="105" y2="80.91"/><line x1="107" y1="38.35" x2="107" y2="81.42"/><line x1="109" y1="38.45" x2="109" y2="82.1"/><line x1="111" y1="38.75" x2="111" y2="81.51"/><line x1="113" y1="38.89" x2="113" y2="81.27"/><line x1="115" y1="39.17" x2="115" y2="82.1"/><line x1="117" y1="39.44" x2="117" y2="82.14"/><line x1="119" y1="39.72" x2="119" y2="80.68"/><line x1="121" y1="39.97" x2="121" y2="82.31"/><line x1="123" y1="40.21" x2="123" y2="79.91"/><line x1="125" y1="40.31" x2="125" y2="80.81"/><line x1="127" y1="40.62" x2="127" y2="81.02"/><line x1="129" y1="40.81" x2="129" y2="81.26"/></g></g>
<g transform="translate(99.5,179.7)" filter="url(#bl)"><polygon points="37.6,56 98.5,58 98.5,94.89 38,87" fill="url(#lw)"/><polygon points="37.2,91.01 37.2,74 38.1,60 38.1,31.36 38.9,30.56 39.9,30.86 40.7,31.66 40.7,60 41.6,74 41.6,91.35" fill="#4a14ff"/><polygon points="39.6,91.33 39.6,74 40.5,60 40.5,32.84 41.3,32.04 49.6,33.18 50.4,33.98 50.4,60 51.3,74 51.3,92.62" fill="#5a1eff"/><polygon points="49.5,92.62 49.5,74 50.4,60 50.4,33.98 51.2,33.18 52.7,33.54 53.5,34.34 53.5,60 54.4,74 54.4,93.02" fill="#8c28ff"/><polygon points="52.6,93.02 52.6,74 53.5,60 53.5,34.34 54.3,33.54 56.4,33.97 57.2,34.77 57.2,60 58.1,74 58.1,93.5" fill="#be00ff"/><polygon points="56.3,93.5 56.3,74 57.2,60 57.2,34.77 58,33.97 58.8,34.24 59.6,35.04 59.6,60 60.5,74 60.5,93.82" fill="#1a00ff"/><polygon points="58.7,93.82 58.7,74 59.6,60 59.6,35.04 60.4,34.24 61.2,34.52 62,35.32 62,60 62.9,74 62.9,94.13" fill="#5000ff"/><polygon points="61.1,94.13 61.1,74 62,60 62,35.29 62.77,34.52 63.53,34.79 64.3,35.56 64.3,60 65.2,74 65.2,94.43" fill="#9614ff"/><polygon points="63.4,94.43 63.4,74 64.3,60 64.3,35.59 65.1,34.79 67,35.19 67.8,35.99 67.8,60 68.7,74 68.7,94.89" fill="#ff00d2"/><polygon points="68.9,95.15 68.9,74 69.8,60 69.8,36.22 70.6,35.42 73.5,35.95 74.3,36.75 74.3,60 75.2,74 75.2,95.73" fill="#cc10ff"/><polygon points="76.6,96.15 76.6,74 77.5,60 77.5,36.88 78.07,36.32 78.63,36.51 79.2,37.08 79.2,60 80.1,74 80.1,96.37" fill="#3c00ff"/><polygon points="83.8,97.09 83.8,74 84.7,60 84.7,37.85 85.4,37.15 86.1,37.39 86.8,38.09 86.8,60 87.7,74 87.7,97.37" fill="#5200ff"/><polygon points="88.1,97.65 88.1,74 89,60 89,38.45 89.8,37.65 91,37.97 91.8,38.77 91.8,60 92.7,74 92.7,98.02" fill="#a000ff"/><polygon points="92.5,98.23 92.5,74 93.4,60 93.4,38.55 93.8,38.15 94.2,38.29 94.6,38.69 94.6,60 95.5,74 95.5,98.38" fill="#ff5ae0"/><polygon points="94.1,98.43 94.1,74 95,60 95,39.14 95.8,38.34 97.5,38.72 98.3,39.52 98.3,60 99.2,74 99.2,98.87" fill="#6400ff"/><polygon points="40.3,29 44,29.4 50,30 57.6,31 57.6,35 55,38 52,43 49.5,49 48.1,51.3 47,50 44.5,42 42.2,34 40.3,30" fill="url(#vn)"/><g stroke="#b99af4" stroke-width=".7"><line x1="41.5" y1="30.25" x2="41.5" y2="35.6"/><line x1="43.5" y1="30.48" x2="43.5" y2="40.5"/><line x1="45.5" y1="30.71" x2="45.5" y2="45.27"/><line x1="47.5" y1="30.95" x2="47.5" y2="49.93"/><line x1="49.5" y1="31.18" x2="49.5" y2="48.7"/><line x1="51.5" y1="31.41" x2="51.5" y2="45.08"/><line x1="53.5" y1="31.64" x2="53.5" y2="41.55"/><line x1="55.5" y1="31.87" x2="55.5" y2="38.11"/></g><polygon points="99.5,72.87 100.82,74.3 102.14,73.35 103.45,74.47 104.77,74.17 106.09,74.79 107.41,73.41 108.73,71.2 110.05,74.3 111.36,74.78 112.68,74.54 114,73.09 115.32,73.76 116.64,71.57 117.95,74.33 119.27,73.22 120.59,71.98 121.91,71.03 123.23,74.53 124.55,75.16 125.86,71.22 127.18,74.38 128.5,72.69 128.5,81 99.5,80" fill="#b43cf0"/><polygon points="98.5,77.38 99.64,77.9 100.77,79.47 101.91,79.86 103.05,77.26 104.19,79.14 105.32,77.38 106.46,79.59 107.6,78.4 108.73,80.22 109.87,80.59 111.01,79.13 112.14,80.76 113.28,78.61 114.42,77.92 115.56,79.65 116.69,77.89 117.83,78.48 118.97,79.21 120.1,79.91 121.24,78.51 122.38,78.2 123.51,80.9 124.65,79.18 125.79,81.3 126.93,81.16 128.06,79.55 129.2,79.87 129.2,98 98.5,94.5" fill="url(#cy)"/><polygon points="99.75,81 100.62,70 101,69 101.38,70 102.25,81" fill="#9a30f0"/><polygon points="104.4,81 105.17,69 105.5,68 105.83,69 106.6,81" fill="#b030f0"/><polygon points="109,82 109.7,73 110,72 110.3,73 111,82" fill="#a040f0"/><polygon points="113,82 113.7,72 114,71 114.3,72 115,82" fill="#a838f0"/><polygon points="117,83 117.7,73 118,72 118.3,73 119,83" fill="#b040f0"/><polygon points="121,83 121.7,71 122,70 122.3,71 123,83" fill="#c040f0"/><polygon points="124.9,84 125.67,70 126,69 126.33,70 127.1,84" fill="#c038f0"/><polygon points="128.1,93 128.59,77 128.8,76 129.01,77 129.5,93" fill="#7a40f0"/><polygon points="129.61,86.52 131.06,84.85 132.27,86.35 133.5,84.14 135.13,85.29 136.48,84.38 138.01,85.34 139.31,83.73 141.05,84.62 143.07,84.11 144.24,85.4 147.28,85.14 144.41,89.47 141.34,92.92 134.74,96.44 128.78,98.8" fill="url(#pg)"/><clipPath id="fcc"><polygon points="36.5,85.5 37,69 131,81 129,98.2 124.6,103.4 119.5,114.7 117,120 114.5,129.47 112.98,129.69 111.46,129.58 109.95,129.28 108.43,129.09 106.91,128.31 105.39,128.53 103.87,128.48 102.36,127.71 100.84,127.65 99.32,127.44 97.8,127.41 96.28,127.13 94.77,126.95 93.25,126.96 91.73,126.2 90.21,126.03 88.69,125.87 87.18,125.66 85.66,124.11 84.14,124.54 82.62,124.24 81.1,123.49 79.59,123.58 78.07,123.24 76.55,123.02 75.03,122.84 73.51,122.84 72,122.59 70.48,122.22 68.96,121.89 67.44,121.78 65.92,121.42 64.4,121.51 62.89,121.42 61.37,120.97 59.85,120.55 58.33,120.41 56.81,120.34 55.3,120.29 53.78,120.2 52.26,119.71 50.74,119.8 49.22,119.46 47.71,119.12 46.19,118.87 44.67,118.74 43.15,118.68 41.63,118.27 40.12,118.25 38.6,117.88 37.08,117.52 35.56,117.51 34.04,117.42 32.53,116.77 31.01,116.81 29.49,116.6 27.97,116.71 26.45,116.54 24.94,115.93 23.42,116.09 21.9,115.8"/></clipPath><polygon points="37.98,85.09 39.93,85.86 43.93,86.47 48.04,87 51.95,88.27 55.81,89.07 60.09,89.41 62.89,89.9 65.4,88.19 66.57,80.2 67.34,73.82 68.33,80.33 69.28,88.36 70.87,90.84 72.56,91.88 74.28,87.73 75.15,82.03 75.88,77.81 76.94,81.68 77.71,88.31 79.06,92.81 80.24,86.63 81.12,82.29 81.91,78.85 82.87,81.92 83.76,86.42 85.36,92 87.18,90.38 88.19,84.93 89.18,90.43 90.89,93.75 92.73,88.16 93.41,84.29 93.94,82.23 94.53,84.59 95.51,88.31 96.82,92.9 98.58,93.92 99.5,94.5 101.03,94.7 102.55,94.51 104.08,94.03 105.6,95.11 107.12,94.62 108.65,94.98 110.17,95.61 111.7,95.64 113.22,95.71 114.75,96.54 116.28,96.34 117.8,96.22 119.33,96.31 120.85,97.24 122.38,96.98 123.9,97.54 125.42,97.23 126.95,97.24 128.47,97.84 130,98.38 129,98.2 124.6,103.4 119.5,114.7 117,120 114.5,129.47 112.98,129.69 111.46,129.58 109.95,129.28 108.43,129.09 106.91,128.31 105.39,128.53 103.87,128.48 102.36,127.71 100.84,127.65 99.32,127.44 97.8,127.41 96.28,127.13 94.77,126.95 93.25,126.96 91.73,126.2 90.21,126.03 88.69,125.87 87.18,125.66 85.66,124.11 84.14,124.54 82.62,124.24 81.1,123.49 79.59,123.58 78.07,123.24 76.55,123.02 75.03,122.84 73.51,122.84 72,122.59 70.48,122.22 68.96,121.89 67.44,121.78 65.92,121.42 64.4,121.51 62.89,121.42 61.37,120.97 59.85,120.55 58.33,120.41 56.81,120.34 55.3,120.29 53.78,120.2 52.26,119.71 50.74,119.8 49.22,119.46 47.71,119.12 46.19,118.87 44.67,118.74 43.15,118.68 41.63,118.27 40.12,118.25 38.6,117.88 37.08,117.52 35.56,117.51 34.04,117.42 32.53,116.77 31.01,116.81 29.49,116.6 27.97,116.71 26.45,116.54 24.94,115.93 23.42,116.09 21.9,115.8" fill="url(#fg)"/><g clip-path="url(#fcc)"><polygon points="37.98,85.09 39.93,85.86 43.93,86.47 48.04,87 51.95,88.27 55.81,89.07 60.09,89.41 62.89,89.9 65.4,88.19 66.57,80.2 67.34,73.82 68.33,80.33 69.28,88.36 70.87,90.84 72.56,91.88 74.28,87.73 75.15,82.03 75.88,77.81 76.94,81.68 77.71,88.31 79.06,92.81 80.24,86.63 81.12,82.29 81.91,78.85 82.87,81.92 83.76,86.42 85.36,92 87.18,90.38 88.19,84.93 89.18,90.43 90.89,93.75 92.73,88.16 93.41,84.29 93.94,82.23 94.53,84.59 95.51,88.31 96.82,92.9 98.58,93.92 99.5,94.5 101.03,94.7 102.55,94.51 104.08,94.03 105.6,95.11 107.12,94.62 108.65,94.98 110.17,95.61 111.7,95.64 113.22,95.71 114.75,96.54 116.28,96.34 117.8,96.22 119.33,96.31 120.85,97.24 122.38,96.98 123.9,97.54 125.42,97.23 126.95,97.24 128.47,97.84 130,98.38 133,96 120.5,132.4 15.9,119.6 35,84" fill="url(#fg)" filter="url(#nz)"/></g><g clip-path="url(#fcc)"><polygon points="78,91 131,96 131,112 104,108.5" fill="url(#gx)" filter="url(#nz)"/></g><polygon points="65.9,87 67.09,73 67.6,72 68.11,73 69.3,87" fill="#00ffd2"/><polygon points="75.1,82 75.73,78 76,77 76.27,78 76.9,82" fill="#14ffa0"/><polygon points="81.2,83 81.76,80 82,79 82.24,80 82.8,83" fill="#28ff8c"/><g fill="none" stroke="#1c1c1c" stroke-width=".7"><polyline points="11.42,120.89 117.28,136.81 157,100.45 159.7,23.33" /><polyline points="17.15,121.48 15.08,123.03" /><polyline points="39.65,124.87 37.64,126.44" /><polyline points="62.47,128.3 60.52,129.89" /><polyline points="85.62,131.78 83.73,133.4" /><polyline points="109.1,135.31 107.28,136.95" /><polyline points="119.71,134.09 123.26,134.62" /><polyline points="125.98,128.35 129.5,128.87" /><polyline points="132.11,122.74 135.6,123.25" /><polyline points="138.1,117.27 141.55,117.76" /><polyline points="143.95,111.91 147.37,112.4" /><polyline points="149.67,106.68 153.06,107.15" /><polyline points="155.27,101.56 158.62,102.03" /><polyline points="157.12,84.14 160.49,84.58" /><polyline points="157.61,69.93 161.01,70.37" /><polyline points="158.11,55.53 161.53,55.95" /><polyline points="158.62,40.93 162.07,41.34" /><polyline points="159.13,26.12 162.6,26.51" /></g><g class="tk"><text x="13.2" y="136.61">0</text><text x="35.2" y="140.71">200</text><text x="58.3" y="144.61">400</text><text x="81.8" y="148.61">600</text><text x="105.7" y="152.21">800</text><text x="128.8" y="148.51">0</text><text x="136" y="142.91">100</text><text x="141.3" y="137.21">200</text><text x="146.9" y="131.91">300</text><text x="152.4" y="126.91">400</text><text x="157.7" y="121.61">500</text><text x="163.3" y="116.31">600</text><text x="169.3" y="90.31">50</text><text x="170" y="75.41">100</text><text x="170.3" y="60.31">150</text><text x="170.5" y="45.41">200</text><text x="170.7" y="30.31">250</text></g></g>
<g transform="translate(2.8,361)" filter="url(#bl)"><polygon points="10.99,120.53 55.69,87.6 54.68,11.5 8.21,39.44" fill="#fafafa" stroke="#ececec" stroke-width=".5"/><polygon points="55.69,87.6 155.28,100.28 157.81,22.24 54.68,11.5" fill="#f4f4f4" stroke="#e8e8e8" stroke-width=".5"/><polygon points="10.99,120.53 117.23,135.32 155.28,100.28 55.69,87.6" fill="#f7f7f7" stroke="#e8e8e8" stroke-width=".5"/><g fill="none" stroke="#b4b4b4" stroke-width=".65"><polyline points="16.7,121.32 63.92,88.65 63.2,12.39" /><polyline points="39.95,124.56 84.66,91.29 84.67,14.63" /><polyline points="62.5,127.7 105.29,93.92 106.04,16.85" /><polyline points="85.65,130.92 127.28,96.72 128.81,19.22" /><polyline points="108.91,134.16 149.47,99.54 151.79,21.61" /><polyline points="120,132.76 14.25,118.13 11.6,37.39" /><polyline points="126.02,127.22 21.3,112.93 18.95,32.98" /><polyline points="131.89,121.81 28.19,107.86 26.12,28.67" /><polyline points="137.63,116.53 34.93,102.9 33.13,24.46" /><polyline points="143.23,111.38 41.51,98.05 39.97,20.35" /><polyline points="148.7,106.34 47.95,93.31 46.65,16.33" /><polyline points="154.06,101.41 54.25,88.67 53.18,12.4" /><polyline points="10.91,118.17 55.67,85.38 155.36,98.01" /><polyline points="10.4,103.43 55.48,71.53 155.82,83.81" /><polyline points="9.89,88.5 55.29,57.49 156.28,69.42" /><polyline points="9.37,73.35 55.1,43.28 156.76,54.85" /><polyline points="8.85,57.99 54.91,28.88 157.24,40.08" /><polyline points="8.31,42.42 54.72,14.3 157.72,25.11" /></g><polygon points="36.8,30.6 50.4,32.6 50.4,41 63.9,41 63.9,33 75,35 76,37 98.5,38.2 98.5,35.94 130.1,39.6 130,97 38,85" fill="#efe0fb"/><clipPath id="bpd"><polygon points="36.8,30.6 50.4,32.6 50.4,41 63.9,41 63.9,33 75,35 76,37 98.5,38.2 98.5,35.94 130.1,39.6 130,97 38,85"/></clipPath><g clip-path="url(#bpd)"><g stroke="#cdb0f6" stroke-width="0.6"><line x1="40.6" y1="28.95" x2="40.6" y2="70"/><line x1="42.3" y1="29.14" x2="42.3" y2="70"/><line x1="44" y1="29.34" x2="44" y2="70"/><line x1="45.7" y1="29.54" x2="45.7" y2="70"/><line x1="47.4" y1="29.73" x2="47.4" y2="70"/><line x1="49.1" y1="29.93" x2="49.1" y2="70"/><line x1="50.8" y1="30.13" x2="50.8" y2="70"/><line x1="52.5" y1="30.32" x2="52.5" y2="70"/><line x1="54.2" y1="30.52" x2="54.2" y2="70"/><line x1="55.9" y1="30.72" x2="55.9" y2="70"/><line x1="57.6" y1="30.91" x2="57.6" y2="70"/><line x1="59.3" y1="31.11" x2="59.3" y2="70"/><line x1="61" y1="31.31" x2="61" y2="70"/><line x1="62.7" y1="31.5" x2="62.7" y2="70"/><line x1="64.4" y1="31.7" x2="64.4" y2="70"/><line x1="66.1" y1="31.9" x2="66.1" y2="70"/><line x1="67.8" y1="32.09" x2="67.8" y2="70"/><line x1="69.5" y1="32.29" x2="69.5" y2="70"/><line x1="71.2" y1="32.49" x2="71.2" y2="70"/><line x1="72.9" y1="32.68" x2="72.9" y2="70"/><line x1="74.6" y1="32.88" x2="74.6" y2="70"/><line x1="76.3" y1="33.08" x2="76.3" y2="70"/><line x1="78" y1="33.27" x2="78" y2="70"/><line x1="79.7" y1="33.47" x2="79.7" y2="70"/><line x1="81.4" y1="33.67" x2="81.4" y2="70"/><line x1="83.1" y1="33.86" x2="83.1" y2="70"/><line x1="84.8" y1="34.06" x2="84.8" y2="70"/><line x1="86.5" y1="34.26" x2="86.5" y2="70"/><line x1="88.2" y1="34.45" x2="88.2" y2="70"/><line x1="89.9" y1="34.65" x2="89.9" y2="70"/><line x1="91.6" y1="34.85" x2="91.6" y2="70"/><line x1="93.3" y1="35.04" x2="93.3" y2="70"/><line x1="95" y1="35.24" x2="95" y2="70"/><line x1="96.7" y1="35.44" x2="96.7" y2="70"/><line x1="98.4" y1="35.63" x2="98.4" y2="70"/></g></g></g>
<g transform="translate(2.8,361)" filter="url(#bl2)"><g stroke="#d4a8f3" stroke-width="2"><line x1="99.7" y1="36.55" x2="99.7" y2="80.69"/><line x1="102.7" y1="36.83" x2="102.7" y2="80.7"/><line x1="105.7" y1="37.79" x2="105.7" y2="81.8"/><line x1="108.7" y1="37.58" x2="108.7" y2="80.33"/><line x1="111.7" y1="37.89" x2="111.7" y2="80.14"/><line x1="114.7" y1="38.84" x2="114.7" y2="81.92"/><line x1="117.7" y1="39.08" x2="117.7" y2="80.43"/><line x1="120.7" y1="39.29" x2="120.7" y2="82.06"/><line x1="123.7" y1="39.84" x2="123.7" y2="81.32"/><line x1="126.7" y1="40.02" x2="126.7" y2="80.03"/><line x1="129.7" y1="40.21" x2="129.7" y2="82.3"/></g></g>
<g transform="translate(2.8,361)" filter="url(#bl)"><polygon points="37.6,56 98.5,58 98.5,94.89 38,87" fill="url(#lw)"/><polygon points="35.9,90.84 35.9,74 36.8,60 36.8,30.51 37.6,29.71 39.7,30.14 40.5,30.94 40.5,60 41.4,74 41.4,91.33" fill="#4a14ff"/><polygon points="39.6,91.33 39.6,74 40.5,60 40.5,33.24 41.3,32.44 49.6,33.58 50.4,34.38 50.4,60 51.3,74 51.3,92.62" fill="#3a14ff"/><polygon points="49.5,92.62 49.5,74 50.4,60 50.4,37.25 51.07,36.58 51.73,36.81 52.4,37.48 52.4,60 53.3,74 53.3,92.88" fill="#4a10ff"/><polygon points="51.5,92.88 51.5,74 52.4,60 52.4,33.81 53.2,33.01 54.6,33.36 55.4,34.16 55.4,60 56.3,74 56.3,93.27" fill="#3c0aff"/><polygon points="54.5,93.27 54.5,74 55.4,60 55.4,39.96 56.2,39.16 57.7,39.52 58.5,40.32 58.5,60 59.4,74 59.4,93.67" fill="#2a00ff"/><polygon points="57.6,93.67 57.6,74 58.5,60 58.5,35.32 59.3,34.52 60.6,34.85 61.4,35.65 61.4,60 62.3,74 62.3,94.05" fill="#2a00ff"/><polygon points="60.5,94.05 60.5,74 61.4,60 61.4,38.59 62.13,37.85 62.87,38.11 63.6,38.84 63.6,60 64.5,74 64.5,94.34" fill="#5a10ff"/><polygon points="63,94.38 63,74 63.9,60 63.9,34.44 64.7,33.64 66.5,34.04 67.3,34.84 67.3,60 68.2,74 68.2,94.82" fill="#ff00dc"/><polygon points="68.3,95.07 68.3,74 69.2,60 69.2,35.56 70,34.76 72.8,35.26 73.6,36.06 73.6,60 74.5,74 74.5,95.64" fill="#c800ff"/><polygon points="76.2,96.1 76.2,74 77.1,60 77.1,45.44 77.87,44.67 78.63,44.94 79.4,45.7 79.4,60 80.3,74 80.3,96.4" fill="#3c00ff"/><polygon points="83,96.99 83,74 83.9,60 83.9,48.26 84.7,47.46 85.6,47.74 86.4,48.54 86.4,60 87.3,74 87.3,97.31" fill="#2a28ff"/><polygon points="87.4,97.56 87.4,74 88.3,60 88.3,38.76 89.1,37.96 90,38.25 90.8,39.05 90.8,60 91.7,74 91.7,97.89" fill="#8a00ff"/><polygon points="91.7,98.12 91.7,74 92.6,60 92.6,40.8 92.93,40.46 93.27,40.58 93.6,40.91 93.6,60 94.5,74 94.5,98.25" fill="#ff5ae0"/><polygon points="93.2,98.32 93.2,74 94.1,60 94.1,38.94 94.9,38.14 97,38.56 97.8,39.36 97.8,60 98.7,74 98.7,98.8" fill="#8c00ff"/><polygon points="40.5,31 44,31.6 50.4,32.8 50.4,38 48,50 47.1,51.5 46,50 42.5,38 40.5,34" fill="url(#vn)"/><g stroke="#b99af4" stroke-width=".7"><line x1="41.7" y1="32.2" x2="41.7" y2="36.18"/><line x1="43.7" y1="32.2" x2="43.7" y2="41.97"/><line x1="45.7" y1="32.2" x2="45.7" y2="47.63"/><line x1="47.7" y1="32.2" x2="47.7" y2="48.22"/><line x1="49.7" y1="32.2" x2="49.7" y2="37.48"/></g><polygon points="98.5,79.17 99.6,78.21 100.7,77.47 101.8,79.47 102.9,78.45 104,79.49 105.1,79.44 106.2,78.4 107.3,78.15 108.4,78.8 109.5,78.32 110.6,77.51 111.7,78.02 112.8,79.7 113.9,77.29 115,77.35 116.1,79.26 117.2,78.21 118.3,79.08 119.4,78.93 120.5,78.57 121.6,80.72 122.7,78.2 123.8,78.95 124.9,78.33 126,79.76 127.1,78.68 128.2,78.99 129.3,80.29 129.3,98 98.5,94.5" fill="url(#cy)"/><polygon points="101.75,81 102.62,71 103,70 103.38,71 104.25,81" fill="#7a40ff"/><polygon points="108,82 108.7,73 109,72 109.3,73 110,82" fill="#7a40ff"/><polygon points="112.7,82 113.26,76 113.5,75 113.74,76 114.3,82" fill="#8a50ff"/><polygon points="117,83 117.7,74 118,73 118.3,74 119,83" fill="#8a50ff"/><polygon points="123,84 123.7,75 124,74 124.3,75 125,84" fill="#9a50ff"/><polygon points="128.7,93 129.19,81 129.4,80 129.61,81 130.1,93" fill="#5a50ff"/><polygon points="129.49,86.45 131.24,84.48 131.94,85.78 133.66,84.29 134.84,85.36 136.41,83.97 137.73,85.46 139.84,84.16 141.14,85.37 142.71,83.83 144.78,85.52 147.25,85.35 144.57,89.55 141.08,93.05 134.97,96.01 128.43,99.37" fill="url(#pg)"/><clipPath id="fcd"><polygon points="36.5,85.5 37,69 131,81 129,98.2 124.6,103.4 119.5,114.7 117,120 114.5,129.89 112.98,129.47 111.46,129.3 109.95,128.74 108.43,128.53 106.91,128.72 105.39,128.43 103.87,128.49 102.36,128.1 100.84,127.56 99.32,127.51 97.8,127.58 96.28,127.2 94.77,126.63 93.25,127 91.73,126.78 90.21,126.05 88.69,126.16 87.18,125.84 85.66,124.61 84.14,124.07 82.62,123.81 81.1,123.77 79.59,123.9 78.07,123.08 76.55,122.88 75.03,123.03 73.51,123 72,122.53 70.48,122.27 68.96,122.36 67.44,122.09 65.92,121.38 64.4,121.74 62.89,121.05 61.37,120.92 59.85,121.08 58.33,120.58 56.81,120.64 55.3,119.98 53.78,120.27 52.26,119.57 50.74,119.34 49.22,119.37 47.71,119.05 46.19,118.99 44.67,119.03 43.15,118.69 41.63,117.98 40.12,117.99 38.6,117.94 37.08,117.69 35.56,117.64 34.04,117.27 32.53,116.77 31.01,116.68 29.49,116.89 27.97,116.34 26.45,116.42 24.94,116.36 23.42,115.9 21.9,115.72"/></clipPath><polygon points="37.93,84.51 39.82,85.67 44.11,86.46 47.92,86.8 52.19,87.92 55.88,88.56 59.82,89.27 63.07,89.25 65.32,88.49 66.5,80.5 67.35,74.03 68.51,79.91 69.5,87.98 70.9,90.91 72.31,91.42 74.2,88.39 75.43,82 75.81,77.25 76.7,81.71 77.69,88.37 78.86,92.05 80.47,87.07 81.4,81.9 82.16,79.15 83.02,82.24 83.8,85.59 85.38,92.87 87.16,90.42 87.93,85.16 89.12,90.14 91.13,93.53 92.66,88.19 93.31,84.92 94.18,82.07 94.89,84.96 95.67,87.54 97.16,92.13 98.69,93.67 99.5,93.49 101.03,93.82 102.55,94.58 104.08,94.7 105.6,95.11 107.12,95.53 108.65,94.88 110.17,94.82 111.7,96.12 113.22,95.23 114.75,96.46 116.28,95.75 117.8,96.78 119.33,96.95 120.85,97.26 122.38,97.07 123.9,97.66 125.42,97.05 126.95,97.81 128.47,97.6 130,98.47 129,98.2 124.6,103.4 119.5,114.7 117,120 114.5,129.89 112.98,129.47 111.46,129.3 109.95,128.74 108.43,128.53 106.91,128.72 105.39,128.43 103.87,128.49 102.36,128.1 100.84,127.56 99.32,127.51 97.8,127.58 96.28,127.2 94.77,126.63 93.25,127 91.73,126.78 90.21,126.05 88.69,126.16 87.18,125.84 85.66,124.61 84.14,124.07 82.62,123.81 81.1,123.77 79.59,123.9 78.07,123.08 76.55,122.88 75.03,123.03 73.51,123 72,122.53 70.48,122.27 68.96,122.36 67.44,122.09 65.92,121.38 64.4,121.74 62.89,121.05 61.37,120.92 59.85,121.08 58.33,120.58 56.81,120.64 55.3,119.98 53.78,120.27 52.26,119.57 50.74,119.34 49.22,119.37 47.71,119.05 46.19,118.99 44.67,119.03 43.15,118.69 41.63,117.98 40.12,117.99 38.6,117.94 37.08,117.69 35.56,117.64 34.04,117.27 32.53,116.77 31.01,116.68 29.49,116.89 27.97,116.34 26.45,116.42 24.94,116.36 23.42,115.9 21.9,115.72" fill="url(#fg)"/><g clip-path="url(#fcd)"><polygon points="37.93,84.51 39.82,85.67 44.11,86.46 47.92,86.8 52.19,87.92 55.88,88.56 59.82,89.27 63.07,89.25 65.32,88.49 66.5,80.5 67.35,74.03 68.51,79.91 69.5,87.98 70.9,90.91 72.31,91.42 74.2,88.39 75.43,82 75.81,77.25 76.7,81.71 77.69,88.37 78.86,92.05 80.47,87.07 81.4,81.9 82.16,79.15 83.02,82.24 83.8,85.59 85.38,92.87 87.16,90.42 87.93,85.16 89.12,90.14 91.13,93.53 92.66,88.19 93.31,84.92 94.18,82.07 94.89,84.96 95.67,87.54 97.16,92.13 98.69,93.67 99.5,93.49 101.03,93.82 102.55,94.58 104.08,94.7 105.6,95.11 107.12,95.53 108.65,94.88 110.17,94.82 111.7,96.12 113.22,95.23 114.75,96.46 116.28,95.75 117.8,96.78 119.33,96.95 120.85,97.26 122.38,97.07 123.9,97.66 125.42,97.05 126.95,97.81 128.47,97.6 130,98.47 133,96 120.5,132.4 15.9,119.6 35,84" fill="url(#fg)" filter="url(#nz)"/></g><g clip-path="url(#fcd)"><polygon points="78,91 131,96 131,112 104,108.5" fill="url(#gx)" filter="url(#nz)"/></g><polygon points="65.9,87 67.09,73 67.6,72 68.11,73 69.3,87" fill="#00ffd2"/><polygon points="75.1,82 75.73,78 76,77 76.27,78 76.9,82" fill="#14ffa0"/><polygon points="81.2,83 81.76,80 82,79 82.24,80 82.8,83" fill="#28ff8c"/><g fill="none" stroke="#1c1c1c" stroke-width=".7"><polyline points="10.99,120.53 117.23,135.32 155.28,100.28 157.81,22.24" /><polyline points="16.74,121.08 14.73,122.57" /><polyline points="39.32,124.22 37.37,125.73" /><polyline points="62.23,127.4 60.34,128.94" /><polyline points="85.45,130.64 83.63,132.2" /><polyline points="109.01,133.91 107.26,135.5" /><polyline points="119.53,132.69 123.09,133.19" /><polyline points="125.55,127.16 129.08,127.64" /><polyline points="131.43,121.75 134.92,122.22" /><polyline points="137.17,116.47 140.62,116.93" /><polyline points="142.77,111.32 146.2,111.77" /><polyline points="148.25,106.28 151.64,106.72" /><polyline points="153.61,101.35 156.96,101.78" /><polyline points="155.37,83.75 158.74,84.16" /><polyline points="155.83,69.37 159.23,69.77" /><polyline points="156.3,54.79 159.72,55.18" /><polyline points="156.78,40.03 160.22,40.4" /><polyline points="157.26,25.06 160.73,25.42" /></g><g class="tk"><text x="13.2" y="136.61">0</text><text x="35.2" y="140.71">200</text><text x="58.3" y="144.61">400</text><text x="81.8" y="148.61">600</text><text x="105.7" y="152.21">800</text><text x="129.3" y="147.81">0</text><text x="135.5" y="142.71">100</text><text x="141.5" y="136.61">200</text><text x="146.8" y="131.01">300</text><text x="152.1" y="125.71">400</text><text x="157.2" y="120.01">500</text><text x="162.5" y="114.81">600</text><text x="167.3" y="87.91">50</text><text x="168" y="73.31">100</text><text x="168.3" y="58.41">150</text><text x="168.5" y="43.71">200</text><text x="168.7" y="28.81">250</text></g></g>
<g transform="translate(201.2,363)" filter="url(#bl)"><polygon points="10.99,120.53 55.69,87.6 54.68,11.5 8.21,39.44" fill="#fafafa" stroke="#ececec" stroke-width=".5"/><polygon points="55.69,87.6 155.28,100.28 157.81,22.24 54.68,11.5" fill="#f4f4f4" stroke="#e8e8e8" stroke-width=".5"/><polygon points="10.99,120.53 117.23,135.32 155.28,100.28 55.69,87.6" fill="#f7f7f7" stroke="#e8e8e8" stroke-width=".5"/><g fill="none" stroke="#b4b4b4" stroke-width=".65"><polyline points="16.7,121.32 63.92,88.65 63.2,12.39" /><polyline points="39.95,124.56 84.66,91.29 84.67,14.63" /><polyline points="62.5,127.7 105.29,93.92 106.04,16.85" /><polyline points="85.65,130.92 127.28,96.72 128.81,19.22" /><polyline points="108.91,134.16 149.47,99.54 151.79,21.61" /><polyline points="120,132.76 14.25,118.13 11.6,37.39" /><polyline points="126.02,127.22 21.3,112.93 18.95,32.98" /><polyline points="131.89,121.81 28.19,107.86 26.12,28.67" /><polyline points="137.63,116.53 34.93,102.9 33.13,24.46" /><polyline points="143.23,111.38 41.51,98.05 39.97,20.35" /><polyline points="148.7,106.34 47.95,93.31 46.65,16.33" /><polyline points="154.06,101.41 54.25,88.67 53.18,12.4" /><polyline points="10.91,118.17 55.67,85.38 155.36,98.01" /><polyline points="10.4,103.43 55.48,71.53 155.82,83.81" /><polyline points="9.89,88.5 55.29,57.49 156.28,69.42" /><polyline points="9.37,73.35 55.1,43.28 156.76,54.85" /><polyline points="8.85,57.99 54.91,28.88 157.24,40.08" /><polyline points="8.31,42.42 54.72,14.3 157.72,25.11" /></g><polygon points="37.6,30.1 98.5,37.14 98.5,35.34 130.1,39 130,97 38,85" fill="#ead6fa"/><clipPath id="bpe"><polygon points="37.6,30.1 98.5,37.14 98.5,35.34 130.1,39 130,97 38,85"/></clipPath><g clip-path="url(#bpe)"><g stroke="#cdb0f6" stroke-width="0.6"><line x1="40.6" y1="28.95" x2="40.6" y2="70"/><line x1="42.3" y1="29.14" x2="42.3" y2="70"/><line x1="44" y1="29.34" x2="44" y2="70"/><line x1="45.7" y1="29.54" x2="45.7" y2="70"/><line x1="47.4" y1="29.73" x2="47.4" y2="70"/><line x1="49.1" y1="29.93" x2="49.1" y2="70"/><line x1="50.8" y1="30.13" x2="50.8" y2="70"/><line x1="52.5" y1="30.32" x2="52.5" y2="70"/><line x1="54.2" y1="30.52" x2="54.2" y2="70"/><line x1="55.9" y1="30.72" x2="55.9" y2="70"/><line x1="57.6" y1="30.91" x2="57.6" y2="70"/><line x1="59.3" y1="31.11" x2="59.3" y2="70"/><line x1="61" y1="31.31" x2="61" y2="70"/><line x1="62.7" y1="31.5" x2="62.7" y2="70"/><line x1="64.4" y1="31.7" x2="64.4" y2="70"/><line x1="66.1" y1="31.9" x2="66.1" y2="70"/><line x1="67.8" y1="32.09" x2="67.8" y2="70"/><line x1="69.5" y1="32.29" x2="69.5" y2="70"/><line x1="71.2" y1="32.49" x2="71.2" y2="70"/><line x1="72.9" y1="32.68" x2="72.9" y2="70"/><line x1="74.6" y1="32.88" x2="74.6" y2="70"/><line x1="76.3" y1="33.08" x2="76.3" y2="70"/><line x1="78" y1="33.27" x2="78" y2="70"/><line x1="79.7" y1="33.47" x2="79.7" y2="70"/><line x1="81.4" y1="33.67" x2="81.4" y2="70"/><line x1="83.1" y1="33.86" x2="83.1" y2="70"/><line x1="84.8" y1="34.06" x2="84.8" y2="70"/><line x1="86.5" y1="34.26" x2="86.5" y2="70"/><line x1="88.2" y1="34.45" x2="88.2" y2="70"/><line x1="89.9" y1="34.65" x2="89.9" y2="70"/><line x1="91.6" y1="34.85" x2="91.6" y2="70"/><line x1="93.3" y1="35.04" x2="93.3" y2="70"/><line x1="95" y1="35.24" x2="95" y2="70"/><line x1="96.7" y1="35.44" x2="96.7" y2="70"/><line x1="98.4" y1="35.63" x2="98.4" y2="70"/></g></g></g>
<g transform="translate(201.2,363)" filter="url(#bl2)"><g stroke="#cfa0f2" stroke-width="1"><line x1="99.3" y1="35.88" x2="99.3" y2="81.89"/><line x1="101.3" y1="36.18" x2="101.3" y2="82.27"/><line x1="103.3" y1="36.23" x2="103.3" y2="82.33"/><line x1="105.3" y1="36.58" x2="105.3" y2="79.84"/><line x1="107.3" y1="36.78" x2="107.3" y2="81.13"/><line x1="109.3" y1="37.03" x2="109.3" y2="80.15"/><line x1="111.3" y1="37.2" x2="111.3" y2="81.8"/><line x1="113.3" y1="37.41" x2="113.3" y2="79.92"/><line x1="115.3" y1="37.73" x2="115.3" y2="79.51"/><line x1="117.3" y1="38.02" x2="117.3" y2="80.15"/><line x1="119.3" y1="38.27" x2="119.3" y2="80.37"/><line x1="121.3" y1="38.5" x2="121.3" y2="81.53"/><line x1="123.3" y1="38.58" x2="123.3" y2="81.57"/><line x1="125.3" y1="38.96" x2="125.3" y2="80.4"/><line x1="127.3" y1="39.07" x2="127.3" y2="79.94"/><line x1="129.3" y1="39.24" x2="129.3" y2="81.31"/></g></g>
<g transform="translate(201.2,363)" filter="url(#bl)"><polygon points="37.6,56 98.5,58 98.5,94.89 38,87" fill="url(#lw)"/><polygon points="37.2,91.01 37.2,74 38.1,60 38.1,30.86 38.9,30.06 39.9,30.36 40.7,31.16 40.7,60 41.6,74 41.6,91.35" fill="#4a14ff"/><polygon points="39.6,91.33 39.6,74 40.5,60 40.5,32.34 41.3,31.54 49.6,32.68 50.4,33.48 50.4,60 51.3,74 51.3,92.62" fill="#5a1eff"/><polygon points="49.5,92.62 49.5,74 50.4,60 50.4,33.48 51.2,32.68 52.7,33.04 53.5,33.84 53.5,60 54.4,74 54.4,93.02" fill="#8c28ff"/><polygon points="52.6,93.02 52.6,74 53.5,60 53.5,33.84 54.3,33.04 56.4,33.47 57.2,34.27 57.2,60 58.1,74 58.1,93.5" fill="#be00ff"/><polygon points="56.3,93.5 56.3,74 57.2,60 57.2,34.27 58,33.47 58.8,33.74 59.6,34.54 59.6,60 60.5,74 60.5,93.82" fill="#1a00ff"/><polygon points="58.7,93.82 58.7,74 59.6,60 59.6,34.54 60.4,33.74 61.2,34.02 62,34.82 62,60 62.9,74 62.9,94.13" fill="#5000ff"/><polygon points="61.1,94.13 61.1,74 62,60 62,34.79 62.77,34.02 63.53,34.29 64.3,35.06 64.3,60 65.2,74 65.2,94.43" fill="#9614ff"/><polygon points="63.4,94.43 63.4,74 64.3,60 64.3,35.09 65.1,34.29 67,34.69 67.8,35.49 67.8,60 68.7,74 68.7,94.89" fill="#ff00d2"/><polygon points="68.9,95.15 68.9,74 69.8,60 69.8,35.72 70.6,34.92 73.5,35.45 74.3,36.25 74.3,60 75.2,74 75.2,95.73" fill="#cc10ff"/><polygon points="76.6,96.15 76.6,74 77.5,60 77.5,36.38 78.07,35.82 78.63,36.01 79.2,36.58 79.2,60 80.1,74 80.1,96.37" fill="#3c00ff"/><polygon points="83.8,97.09 83.8,74 84.7,60 84.7,37.35 85.4,36.65 86.1,36.89 86.8,37.59 86.8,60 87.7,74 87.7,97.37" fill="#5200ff"/><polygon points="88.1,97.65 88.1,74 89,60 89,37.95 89.8,37.15 91,37.47 91.8,38.27 91.8,60 92.7,74 92.7,98.02" fill="#a000ff"/><polygon points="92.5,98.23 92.5,74 93.4,60 93.4,38.05 93.8,37.65 94.2,37.79 94.6,38.19 94.6,60 95.5,74 95.5,98.38" fill="#ff5ae0"/><polygon points="94.1,98.43 94.1,74 95,60 95,38.64 95.8,37.84 97.5,38.22 98.3,39.02 98.3,60 99.2,74 99.2,98.87" fill="#6400ff"/><polygon points="40.3,28.4 46,29.2 52.1,30 52.1,34 50,42 48.3,50 47.7,51.5 46.8,50 44,41 40.3,32" fill="url(#vn)"/><g stroke="#b99af4" stroke-width=".7"><line x1="41.5" y1="30.25" x2="41.5" y2="35.79"/><line x1="43.5" y1="30.48" x2="43.5" y2="40.99"/><line x1="45.5" y1="30.71" x2="45.5" y2="46.06"/><line x1="47.5" y1="30.95" x2="47.5" y2="51.01"/><line x1="49.5" y1="31.18" x2="49.5" y2="44.21"/><line x1="51.5" y1="31.41" x2="51.5" y2="36.31"/></g><polygon points="100,71.31 101.32,74.31 102.64,72.84 103.95,72.74 105.27,75.01 106.59,73.55 107.91,72.85 109.23,73.6 110.55,74.61 111.86,71.79 113.18,75.85 114.5,71.69 115.82,74.92 117.14,75.36 118.45,71.75 119.77,75.16 121.09,73.33 122.41,74.29 123.73,71.81 125.05,72.01 126.36,72.62 127.68,76.06 129,72.74 129,80.5 100,79.5" fill="#a040f0"/><polygon points="98.4,78.32 99.53,78.95 100.65,79.06 101.78,77.22 102.9,77.32 104.03,77.94 105.15,78.81 106.28,76.75 107.4,78.87 108.53,79.09 109.65,79.37 110.78,76.8 111.9,79.78 113.03,77.12 114.15,77.99 115.28,78.93 116.4,79.98 117.53,78.2 118.65,80.14 119.78,79 120.9,78.33 122.03,78.41 123.15,78.04 124.28,77.79 125.4,78.09 126.53,79.89 127.65,80.95 128.78,78.35 129.9,78.06 129.9,98 98.4,94.5" fill="url(#cy)"/><polygon points="101.75,81 102.62,71 103,70 103.38,71 104.25,81" fill="#7a40ff"/><polygon points="108,82 108.7,73 109,72 109.3,73 110,82" fill="#7a40ff"/><polygon points="112.7,82 113.26,76 113.5,75 113.74,76 114.3,82" fill="#8a50ff"/><polygon points="117,83 117.7,74 118,73 118.3,74 119,83" fill="#8a50ff"/><polygon points="123,84 123.7,75 124,74 124.3,75 125,84" fill="#9a50ff"/><polygon points="128.7,93 129.19,81 129.4,80 129.61,81 130.1,93" fill="#5a50ff"/><polygon points="129.89,86.43 130.94,84.59 132.26,86.26 133.47,84.14 134.73,85.83 136.32,83.99 138.2,85 139.74,84.16 141.08,85.23 142.76,83.95 144.29,85.58 147.18,84.96 144.8,89.58 141.49,93.26 134.99,96.48 128.49,98.83" fill="url(#pg)"/><clipPath id="fce"><polygon points="36.5,85.5 37,69 131,81 129,98.2 124.6,103.4 119.5,114.7 117,120 114.5,129.59 112.98,129.55 111.46,129.6 109.95,129.29 108.43,128.8 106.91,128.87 105.39,128.54 103.87,128.14 102.36,127.77 100.84,127.88 99.32,127.65 97.8,127.71 96.28,127.51 94.77,127.05 93.25,126.66 91.73,126.83 90.21,125.99 88.69,125.86 87.18,125.97 85.66,124.49 84.14,123.95 82.62,124.08 81.1,124.06 79.59,123.49 78.07,123.32 76.55,122.96 75.03,122.8 73.51,123.07 72,122.44 70.48,122.64 68.96,122.39 67.44,121.96 65.92,121.52 64.4,121.81 62.89,121.26 61.37,121 59.85,120.72 58.33,120.98 56.81,120.42 55.3,120.07 53.78,119.99 52.26,119.53 50.74,119.67 49.22,119.34 47.71,119.02 46.19,119.15 44.67,118.98 43.15,118.2 41.63,118.35 40.12,117.96 38.6,118.21 37.08,117.9 35.56,117.31 34.04,117.12 32.53,116.83 31.01,117.2 29.49,116.5 27.97,116.51 26.45,116.21 24.94,116.12 23.42,115.88 21.9,115.77"/></clipPath><polygon points="37.96,84.65 39.95,86.49 44.18,86.73 48,87.04 51.84,87.77 56.11,89.37 59.94,89.89 63.11,89.79 65.57,88.76 66.55,80.2 67.41,73.99 68.51,80.19 69.22,88.45 71.06,91.08 72.3,91.55 74.2,88.17 75.29,82.32 76.06,77.8 76.74,82.14 77.9,88.33 78.94,92.84 80.45,87.19 81.39,82.46 82.01,79.03 82.77,82.34 83.97,85.98 85.58,92.72 87.09,89.67 88.11,85.08 89.07,89.92 91.05,93.77 92.65,88.22 93.21,84.16 93.98,82.65 94.59,84.69 95.65,87.54 96.99,92.23 98.32,93.13 99.4,93.79 100.93,93.83 102.46,94.04 103.99,94.05 105.52,94.77 107.05,94.86 108.58,95.34 110.11,95.51 111.64,95.29 113.17,96.29 114.7,95.41 116.23,96.09 117.76,96.14 119.29,96.5 120.82,96.34 122.35,97.4 123.88,97.05 125.41,96.84 126.94,97.74 128.47,97.31 130,98.05 129,98.2 124.6,103.4 119.5,114.7 117,120 114.5,129.59 112.98,129.55 111.46,129.6 109.95,129.29 108.43,128.8 106.91,128.87 105.39,128.54 103.87,128.14 102.36,127.77 100.84,127.88 99.32,127.65 97.8,127.71 96.28,127.51 94.77,127.05 93.25,126.66 91.73,126.83 90.21,125.99 88.69,125.86 87.18,125.97 85.66,124.49 84.14,123.95 82.62,124.08 81.1,124.06 79.59,123.49 78.07,123.32 76.55,122.96 75.03,122.8 73.51,123.07 72,122.44 70.48,122.64 68.96,122.39 67.44,121.96 65.92,121.52 64.4,121.81 62.89,121.26 61.37,121 59.85,120.72 58.33,120.98 56.81,120.42 55.3,120.07 53.78,119.99 52.26,119.53 50.74,119.67 49.22,119.34 47.71,119.02 46.19,119.15 44.67,118.98 43.15,118.2 41.63,118.35 40.12,117.96 38.6,118.21 37.08,117.9 35.56,117.31 34.04,117.12 32.53,116.83 31.01,117.2 29.49,116.5 27.97,116.51 26.45,116.21 24.94,116.12 23.42,115.88 21.9,115.77" fill="url(#fg)"/><g clip-path="url(#fce)"><polygon points="37.96,84.65 39.95,86.49 44.18,86.73 48,87.04 51.84,87.77 56.11,89.37 59.94,89.89 63.11,89.79 65.57,88.76 66.55,80.2 67.41,73.99 68.51,80.19 69.22,88.45 71.06,91.08 72.3,91.55 74.2,88.17 75.29,82.32 76.06,77.8 76.74,82.14 77.9,88.33 78.94,92.84 80.45,87.19 81.39,82.46 82.01,79.03 82.77,82.34 83.97,85.98 85.58,92.72 87.09,89.67 88.11,85.08 89.07,89.92 91.05,93.77 92.65,88.22 93.21,84.16 93.98,82.65 94.59,84.69 95.65,87.54 96.99,92.23 98.32,93.13 99.4,93.79 100.93,93.83 102.46,94.04 103.99,94.05 105.52,94.77 107.05,94.86 108.58,95.34 110.11,95.51 111.64,95.29 113.17,96.29 114.7,95.41 116.23,96.09 117.76,96.14 119.29,96.5 120.82,96.34 122.35,97.4 123.88,97.05 125.41,96.84 126.94,97.74 128.47,97.31 130,98.05 133,96 120.5,132.4 15.9,119.6 35,84" fill="url(#fg)" filter="url(#nz)"/></g><g clip-path="url(#fce)"><polygon points="78,91 131,96 131,112 104,108.5" fill="url(#gx)" filter="url(#nz)"/></g><polygon points="65.9,87 67.09,73 67.6,72 68.11,73 69.3,87" fill="#00ffd2"/><polygon points="75.1,82 75.73,78 76,77 76.27,78 76.9,82" fill="#14ffa0"/><polygon points="81.2,83 81.76,80 82,79 82.24,80 82.8,83" fill="#28ff8c"/><g fill="none" stroke="#1c1c1c" stroke-width=".7"><polyline points="10.99,120.53 117.23,135.32 155.28,100.28 157.81,22.24" /><polyline points="16.74,121.08 14.73,122.57" /><polyline points="39.32,124.22 37.37,125.73" /><polyline points="62.23,127.4 60.34,128.94" /><polyline points="85.45,130.64 83.63,132.2" /><polyline points="109.01,133.91 107.26,135.5" /><polyline points="119.53,132.69 123.09,133.19" /><polyline points="125.55,127.16 129.08,127.64" /><polyline points="131.43,121.75 134.92,122.22" /><polyline points="137.17,116.47 140.62,116.93" /><polyline points="142.77,111.32 146.2,111.77" /><polyline points="148.25,106.28 151.64,106.72" /><polyline points="153.61,101.35 156.96,101.78" /><polyline points="155.37,83.75 158.74,84.16" /><polyline points="155.83,69.37 159.23,69.77" /><polyline points="156.3,54.79 159.72,55.18" /><polyline points="156.78,40.03 160.22,40.4" /><polyline points="157.26,25.06 160.73,25.42" /></g><g class="tk"><text x="13.2" y="136.61">0</text><text x="35.2" y="140.71">200</text><text x="58.3" y="144.61">400</text><text x="81.8" y="148.61">600</text><text x="105.7" y="152.21">800</text><text x="130.1" y="148.01">0</text><text x="135.5" y="142.11">100</text><text x="141.1" y="136.21">200</text><text x="146.8" y="130.61">300</text><text x="152" y="125.21">400</text><text x="157.1" y="119.71">500</text><text x="162.5" y="114.91">600</text><text x="167.7" y="88.41">50</text><text x="168.4" y="73.91">100</text><text x="168.7" y="58.81">150</text><text x="168.9" y="44.21">200</text><text x="169.1" y="29.11">250</text></g></g>
<g class="cap" filter="url(#bl3)"><text class="pr" x="83.3" y="178.9">(</text><text class="lt" transform="translate(93,178.9) scale(1,1.03)" x="0" y="0">a</text><text class="pr" x="103.2" y="178.9">)</text></g>
<g class="cap" filter="url(#bl3)"><text class="pr" x="281.3" y="178.7">(</text><text class="lt" transform="translate(291.9,178.7) scale(1,1)" x="0" y="0">b</text><text class="pr" x="303.3" y="178.7">)</text></g>
<g class="cap" filter="url(#bl3)"><text class="pr" x="183.8" y="359.5">(</text><text class="lt" transform="translate(192.2,359.5) scale(1.04,1.05)" x="0" y="0">c</text><text class="pr" x="201.1" y="359.5">)</text></g>
<g class="cap" filter="url(#bl3)"><text class="pr" x="82.1" y="540.2">(</text><text class="lt" transform="translate(92.5,540.2) scale(1.06,1)" x="0" y="0">d</text><text class="pr" x="103.75" y="540.2">)</text></g>
<g class="cap" filter="url(#bl3)"><text class="pr" x="282.1" y="540.5">(</text><text class="lt" transform="translate(291.65,540.5) scale(1.22,1.08)" x="0" y="0">e</text><text class="pr" x="301.6" y="540.5">)</text></g>
</svg></body></html>
